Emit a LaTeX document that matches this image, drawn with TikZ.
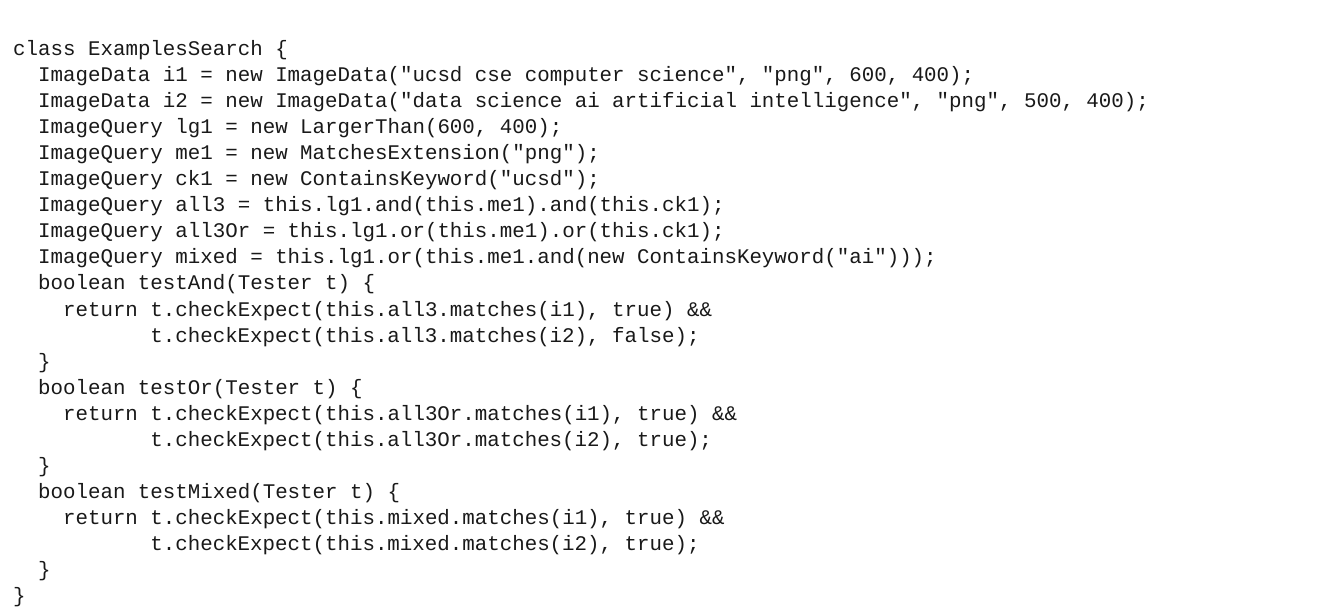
\documentclass[tikz,border=0pt]{standalone}
\usepackage{fontspec}
\setmonofont{Liberation Mono}
\begin{document}
\begin{tikzpicture}[x=1pt,y=1pt,
  codeline/.style={anchor=base west,inner sep=0pt,font=\fontsize{20.8}{26}\ttfamily,text=black!90}]
\useasboundingbox (0,0) rectangle (1336,614);
\fill[white] (0,0) rectangle (1336,614);
\def\cw{12.47}
\def\bx{13}
\node[codeline] (l1)  at (\bx+0*\cw,558) {class ExamplesSearch \{};
\node[codeline] (l2)  at (\bx+2*\cw,532) {ImageData i1 = new ImageData("ucsd cse computer science", "png", 600, 400);};
\node[codeline] (l3)  at (\bx+2*\cw,506) {ImageData i2 = new ImageData("data science ai artificial intelligence", "png", 500, 400);};
\node[codeline] (l4)  at (\bx+2*\cw,480) {ImageQuery lg1 = new LargerThan(600, 400);};
\node[codeline] (l5)  at (\bx+2*\cw,454) {ImageQuery me1 = new MatchesExtension("png");};
\node[codeline] (l6)  at (\bx+2*\cw,428) {ImageQuery ck1 = new ContainsKeyword("ucsd");};
\node[codeline] (l7)  at (\bx+2*\cw,402) {ImageQuery all3 = this.lg1.and(this.me1).and(this.ck1);};
\node[codeline] (l8)  at (\bx+2*\cw,376) {ImageQuery all3Or = this.lg1.or(this.me1).or(this.ck1);};
\node[codeline] (l9)  at (\bx+2*\cw,350) {ImageQuery mixed = this.lg1.or(this.me1.and(new ContainsKeyword("ai")));};
\node[codeline] (l10) at (\bx+2*\cw,324) {boolean testAnd(Tester t) \{};
\node[codeline] (l11) at (\bx+4*\cw,298) {return t.checkExpect(this.all3.matches(i1), true) \&\&};
\node[codeline] (l12) at (\bx+11*\cw,272) {t.checkExpect(this.all3.matches(i2), false);};
\node[codeline] (l13) at (\bx+2*\cw,246) {\}};
\node[codeline] (l14) at (\bx+2*\cw,220) {boolean testOr(Tester t) \{};
\node[codeline] (l15) at (\bx+4*\cw,194) {return t.checkExpect(this.all3Or.matches(i1), true) \&\&};
\node[codeline] (l16) at (\bx+11*\cw,168) {t.checkExpect(this.all3Or.matches(i2), true);};
\node[codeline] (l17) at (\bx+2*\cw,142) {\}};
\node[codeline] (l18) at (\bx+2*\cw,116) {boolean testMixed(Tester t) \{};
\node[codeline] (l19) at (\bx+4*\cw,90) {return t.checkExpect(this.mixed.matches(i1), true) \&\&};
\node[codeline] (l20) at (\bx+11*\cw,64) {t.checkExpect(this.mixed.matches(i2), true);};
\node[codeline] (l21) at (\bx+2*\cw,38) {\}};
\node[codeline] (l22) at (\bx+0*\cw,12) {\}};
\end{tikzpicture}
\end{document}
